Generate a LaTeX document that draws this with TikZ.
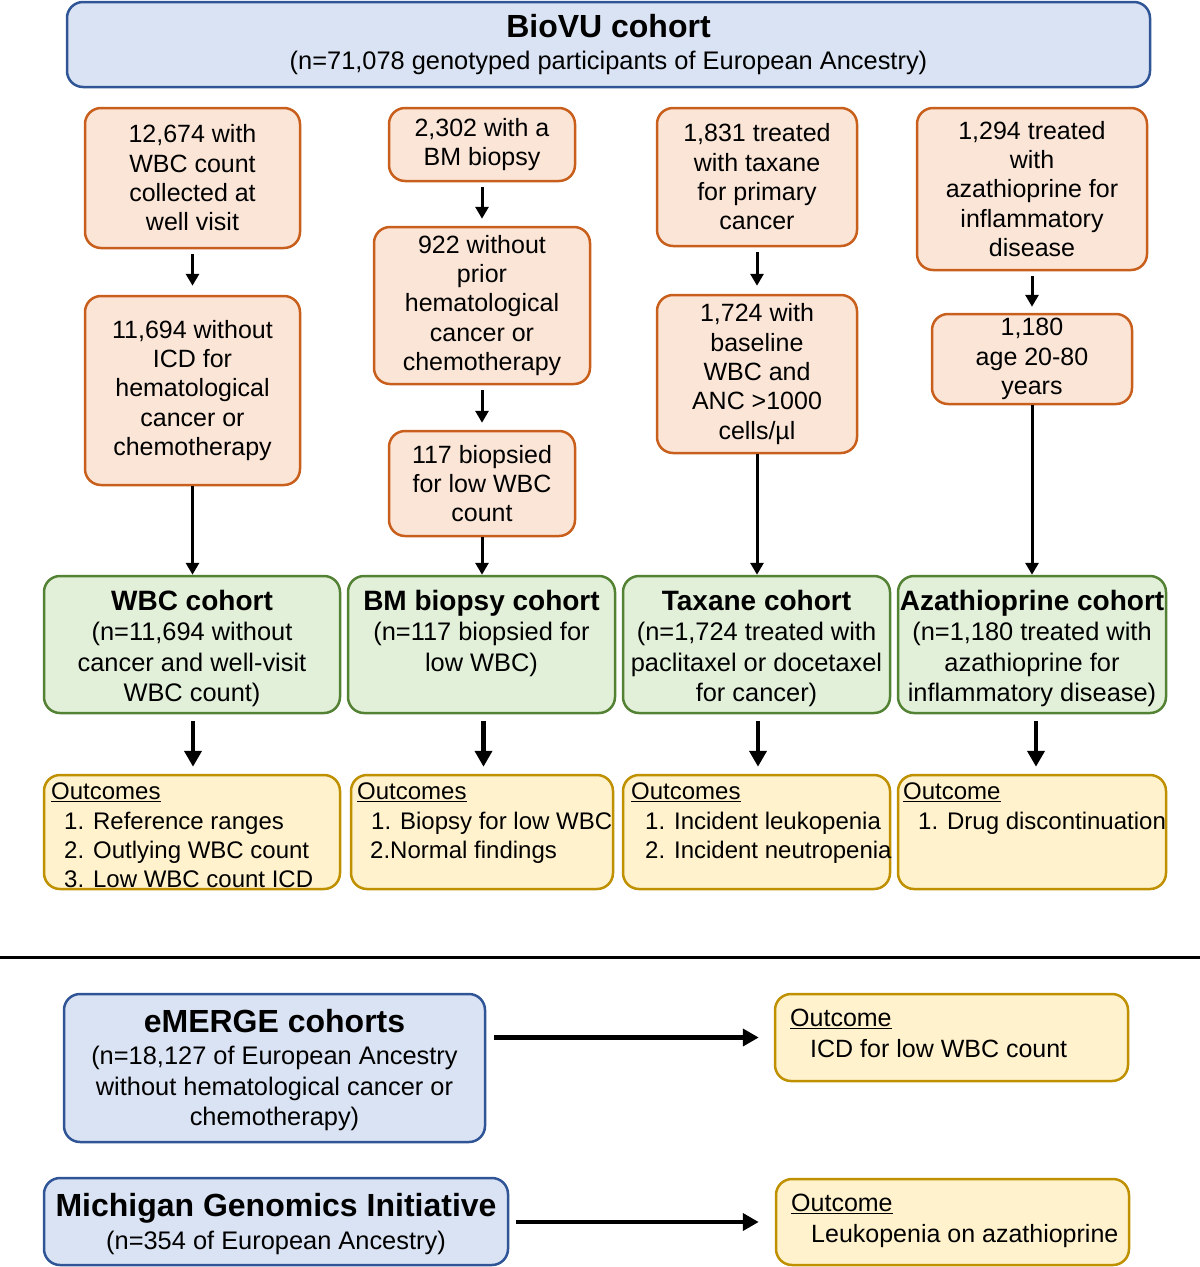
\documentclass[tikz,border=0pt]{standalone}
\usepackage{fontspec}
\setmainfont{Liberation Sans}
\usetikzlibrary{arrows.meta}
\definecolor{bluefill}{HTML}{DAE3F3}
\definecolor{blueline}{HTML}{2F5597}
\definecolor{orfill}{HTML}{FBE5D6}
\definecolor{orline}{HTML}{C95F1C}
\definecolor{grfill}{HTML}{E2F0D9}
\definecolor{grline}{HTML}{548235}
\definecolor{yefill}{HTML}{FFF2CC}
\definecolor{yeline}{HTML}{BF9000}
\newcommand{\bodyfont}{\fontsize{25}{29.3}\selectfont}
\newcommand{\widefont}{\fontsize{25.4}{30.3}\selectfont}
\newcommand{\outfont}{\fontsize{24}{29.2}\selectfont}
\newcommand{\ttl}[1]{{\fontsize{28}{30}\selectfont\bfseries\rule{0pt}{28pt}#1}}
\newcommand{\bigttl}[2][23pt]{{\fontsize{32}{34}\selectfont\bfseries\rule{0pt}{#1}#2}}
\tikzset{
  box/.style={draw, line width=2.5pt, rounded corners=16pt, inner sep=0pt, align=center, font=\bodyfont},
  bluebox/.style={box, draw=blueline, fill=bluefill, font=\widefont},
  orbox/.style={box, draw=orline, fill=orfill},
  grbox/.style={box, draw=grline, fill=grfill, font=\widefont},
  yebox/.style={box, draw=yeline, fill=yefill},
  otext/.style={anchor=north west, inner sep=0pt, align=left, font=\outfont},
  thinarrow/.style={-{Triangle[length=12pt,width=13pt]}, line width=3pt},
  thickarrow/.style={-{Triangle[length=16pt,width=17pt]}, line width=4.5pt},
}
\begin{document}
\begin{tikzpicture}[x=1pt,y=-1pt]
\useasboundingbox (0,0) rectangle (1200,1267);
% top
\node[bluebox, minimum width=1083pt, minimum height=85pt] (bio) at (608.5,44.5)
  {\bigttl{BioVU cohort}\\[1pt](n=71,078 genotyped participants of European Ancestry)};
% column 1
\node[orbox, minimum width=215pt, minimum height=140pt] (a1) at (192.5,178)
  {12,674 with\\WBC count\\collected at\\well visit};
\node[orbox, minimum width=215pt, minimum height=189pt] (a2) at (192.5,390.5)
  {11,694 without\\ICD for\\hematological\\cancer or\\chemotherapy};
% column 2
\node[orbox, minimum width=186pt, minimum height=73pt] (b1) at (482,144.5)
  {2,302 with a\\BM biopsy};
\node[orbox, minimum width=216pt, minimum height=157pt] (b2) at (482,305.5)
  {922 without\\prior\\hematological\\cancer or\\chemotherapy};
\node[orbox, minimum width=186pt, minimum height=105pt] (b3) at (482,483.5)
  {117 biopsied\\for low WBC\\count};
% column 3
\node[orbox, minimum width=200pt, minimum height=138pt] (c1) at (757,177)
  {1,831 treated\\with taxane\\for primary\\cancer};
\node[orbox, minimum width=200pt, minimum height=158pt] (c2) at (757,374)
  {1,724 with\\baseline\\WBC and\\ANC >1000\\cells/µl};
% column 4
\node[orbox, minimum width=230pt, minimum height=162pt] (d1) at (1032,189)
  {1,294 treated\\with\\azathioprine for\\inflammatory\\disease};
\node[orbox, minimum width=200pt, minimum height=90pt] (d2) at (1032,359)
  {1,180\\age 20-80\\years};
% green cohorts
\node[grbox, minimum width=296pt, minimum height=137pt] (g1) at (192,644.5)
  {\ttl{WBC cohort}\\[0pt](n=11,694 without\\cancer and well-visit\\WBC count)};
\node[grbox, minimum width=267pt, minimum height=137pt] (g2) at (481.5,644.5)
  {\ttl{BM biopsy cohort}\\[0pt](n=117 biopsied for\\low WBC)\\\phantom{)}};
\node[grbox, minimum width=267pt, minimum height=137pt] (g3) at (756.5,644.5)
  {\ttl{Taxane cohort}\\[0pt](n=1,724 treated with\\paclitaxel or docetaxel\\for cancer)};
\node[grbox, minimum width=268pt, minimum height=137pt] (g4) at (1032,644.5)
  {\ttl{Azathioprine cohort}\\[0pt](n=1,180 treated with\\azathioprine for\\inflammatory disease)};
% yellow outcomes
\node[yebox, minimum width=296pt, minimum height=114pt] (y1) at (192,832) {};
\node[yebox, minimum width=262pt, minimum height=114pt] (y2) at (482,832) {};
\node[yebox, minimum width=267pt, minimum height=114pt] (y3) at (756.5,832) {};
\node[yebox, minimum width=268pt, minimum height=114pt] (y4) at (1032,832) {};
\node[otext] (t1) at (51,783) {\underline{Outcomes}\\\hspace{13pt}1. Reference ranges\\\hspace{13pt}2. Outlying WBC count\\\hspace{13pt}3. Low WBC count ICD};
\node[otext] (t2) at (357,783) {\underline{Outcomes}\\\hspace{14pt}1. Biopsy for low WBC\\\hspace{13pt}2.Normal findings};
\node[otext] (t3) at (631,783) {\underline{Outcomes}\\\hspace{14pt}1. Incident leukopenia\\\hspace{14pt}2. Incident neutropenia};
\node[otext] (t4) at (903,783) {\underline{Outcome}\\\hspace{15pt}1. Drug discontinuation};
% arrows top section
\draw[thinarrow, shorten <=5pt, shorten >=9pt] (a1.south) -- (a2.north);
\draw[thinarrow] (a2.south) -- (g1.north -| a2.south);
\draw[thinarrow, shorten <=5pt, shorten >=7pt] (b1.south) -- (b2.north);
\draw[thinarrow, shorten <=5pt, shorten >=7pt] (b2.south) -- (b3.north);
\draw[thinarrow] (b3.south) -- (g2.north -| b3.south);
\draw[thinarrow, shorten <=5pt, shorten >=8pt] (c1.south) -- (c2.north);
\draw[thinarrow] (c2.south) -- (g3.north -| c2.south);
\draw[thinarrow, shorten <=5pt, shorten >=6pt] (d1.south) -- (d2.north);
\draw[thinarrow] (d2.south) -- (g4.north -| d2.south);
% thick arrows
\draw[thickarrow, shorten <=7pt, shorten >=7pt] ([xshift=1pt]g1.south) -- ([xshift=1pt]y1.north);
\draw[thickarrow, shorten <=7pt, shorten >=7pt] ([xshift=2pt]g2.south) -- ([xshift=2pt]g2.south |- y2.north);
\draw[thickarrow, shorten <=7pt, shorten >=7pt] ([xshift=1.5pt]g3.south) -- ([xshift=1.5pt]y3.north);
\draw[thickarrow, shorten <=7pt, shorten >=7pt] ([xshift=4pt]g4.south) -- ([xshift=4pt]y4.north);
% separator
\coordinate (sepL) at (0,957);
\coordinate (sepR) at (1200,957);
\draw[line width=3pt] (sepL) -- (sepR);
% bottom section
\node[bluebox, minimum width=421pt, minimum height=148pt] (e) at (274.5,1068)
  {\bigttl[27pt]{eMERGE cohorts}\\[2pt](n=18,127 of European Ancestry\\without hematological cancer or\\chemotherapy)};
\node[yebox, minimum width=353pt, minimum height=87pt] (eo) at (951.5,1037.5) {};
\node[otext, font=\bodyfont] (eot) at (790,1009) {\underline{Outcome}\\[1.5pt]\hspace{20pt}ICD for low WBC count};
\node[bluebox, minimum width=464pt, minimum height=87pt] (m) at (276,1221.5)
  {\bigttl[28pt]{Michigan Genomics Initiative}\\[3pt](n=354 of European Ancestry)};
\node[yebox, minimum width=353pt, minimum height=86pt] (mo) at (952.5,1222) {};
\node[otext, font=\bodyfont] (mot) at (791,1194) {\underline{Outcome}\\[1.5pt]\hspace{20pt}Leukopenia on azathioprine};
\draw[thickarrow, shorten <=8pt, shorten >=15pt] (e.east |- eo.west) -- (eo.west);
\draw[thickarrow, shorten <=7pt, shorten >=16pt] (m.east |- mo.west) -- (mo.west);
\end{tikzpicture}
\end{document}
